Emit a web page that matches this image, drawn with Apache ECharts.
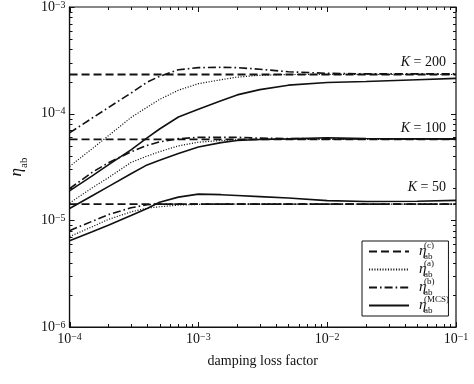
<!DOCTYPE html>
<html><head><meta charset="utf-8">
<script src="https://cdn.jsdelivr.net/npm/echarts@6/dist/echarts.min.js"></script>
<style>html,body{margin:0;padding:0;background:#fff}#c{width:474px;height:384px}</style>
</head><body><div id="c"></div>
<script>
// ---- data ----
const lossFactor = [1e-4, 1.5e-4, 2e-4, 3e-4, 4e-4, 5e-4, 7e-4, 1e-3, 1.5e-3, 2e-3, 3e-3, 5e-3, 1e-2, 2e-2, 5e-2, 1e-1];
const xTickValues = [1e-4, 1e-3, 1e-2, 1e-1];
const yTickValues = [1e-6, 1e-5, 1e-4, 1e-3];
const legendNames = ['c', 'a', 'b', 'MCS'];
const kLabels = ['K = 200', 'K = 100', 'K = 50'];

const k200_c   = [2.33e-4, 2.33e-4, 2.33e-4, 2.33e-4, 2.33e-4, 2.33e-4, 2.33e-4, 2.33e-4, 2.33e-4, 2.33e-4, 2.33e-4, 2.33e-4, 2.33e-4, 2.33e-4, 2.33e-4, 2.33e-4];
const k200_a   = [3.2e-5, 4.7e-5, 6.2e-5, 9.2e-5, 1.15e-4, 1.36e-4, 1.66e-4, 1.91e-4, 2.08e-4, 2.2e-4, 2.29e-4, 2.33e-4, 2.33e-4, 2.33e-4, 2.33e-4, 2.33e-4];
const k200_b   = [6.6e-5, 9.1e-5, 1.14e-4, 1.56e-4, 1.97e-4, 2.24e-4, 2.58e-4, 2.70e-4, 2.72e-4, 2.70e-4, 2.61e-4, 2.47e-4, 2.39e-4, 2.36e-4, 2.36e-4, 2.36e-4];
const k200_mcs = [1.89e-5, 2.61e-5, 3.31e-5, 4.57e-5, 5.92e-5, 7.18e-5, 9.3e-5, 1.10e-4, 1.32e-4, 1.50e-4, 1.68e-4, 1.85e-4, 1.96e-4, 2.0e-4, 2.08e-4, 2.14e-4];

const k100_c   = [5.75e-5, 5.75e-5, 5.75e-5, 5.75e-5, 5.75e-5, 5.75e-5, 5.75e-5, 5.75e-5, 5.75e-5, 5.75e-5, 5.75e-5, 5.75e-5, 5.75e-5, 5.75e-5, 5.75e-5, 5.75e-5];
const k100_a   = [1.45e-5, 2.02e-5, 2.51e-5, 3.49e-5, 4.0e-5, 4.4e-5, 4.99e-5, 5.4e-5, 5.6e-5, 5.7e-5, 5.75e-5, 5.75e-5, 5.75e-5, 5.75e-5, 5.75e-5, 5.75e-5];
const k100_b   = [1.98e-5, 2.82e-5, 3.46e-5, 4.38e-5, 5.04e-5, 5.43e-5, 5.83e-5, 6.0e-5, 6.0e-5, 6.0e-5, 5.9e-5, 5.85e-5, 5.8e-5, 5.8e-5, 5.8e-5, 5.8e-5];
const k100_mcs = [1.29e-5, 1.70e-5, 2.07e-5, 2.73e-5, 3.31e-5, 3.65e-5, 4.24e-5, 4.87e-5, 5.35e-5, 5.6e-5, 5.72e-5, 5.8e-5, 5.95e-5, 5.85e-5, 5.8e-5, 5.8e-5];

const k50_c    = [1.42e-5, 1.42e-5, 1.42e-5, 1.42e-5, 1.42e-5, 1.42e-5, 1.42e-5, 1.42e-5, 1.42e-5, 1.42e-5, 1.42e-5, 1.42e-5, 1.42e-5, 1.42e-5, 1.42e-5, 1.42e-5];
const k50_a    = [7.05e-6, 8.7e-6, 1.02e-5, 1.20e-5, 1.30e-5, 1.34e-5, 1.39e-5, 1.41e-5, 1.42e-5, 1.42e-5, 1.42e-5, 1.42e-5, 1.42e-5, 1.42e-5, 1.42e-5, 1.42e-5];
const k50_b    = [8.0e-6, 9.8e-6, 1.13e-5, 1.31e-5, 1.40e-5, 1.42e-5, 1.42e-5, 1.42e-5, 1.42e-5, 1.42e-5, 1.42e-5, 1.42e-5, 1.42e-5, 1.42e-5, 1.42e-5, 1.42e-5];
const k50_mcs  = [6.45e-6, 7.8e-6, 9.0e-6, 1.11e-5, 1.29e-5, 1.48e-5, 1.65e-5, 1.76e-5, 1.74e-5, 1.71e-5, 1.67e-5, 1.62e-5, 1.53e-5, 1.50e-5, 1.51e-5, 1.54e-5];

// ---- build ----
const FONT = 'Liberation Serif';
const INK = '#111';
const xr = {min: xTickValues[0], max: xTickValues[xTickValues.length - 1]};
const yr = {min: yTickValues[0], max: yTickValues[yTickValues.length - 1]};
// tick marks: [value, length]
function tickList(decades) {
  const out = [];
  decades.forEach((d, i) => {
    out.push([d, 5]);
    if (i < decades.length - 1) for (let m = 2; m <= 9; m++) out.push([d * m, 3]);
  });
  return out;
}
const xTicks = tickList(xTickValues);
const yTicks = tickList(yTickValues);

const powLabel = v => {
  const e = Math.round(Math.log10(v));
  return '{b|10}{s|' + (e < 0 ? '\u2212' : '') + Math.abs(e) + '}';
};
const powRich = {
  b: {fontFamily: FONT, fontSize: 14, color: INK, lineHeight: 14},
  s: {fontFamily: FONT, fontSize: 10, color: INK, lineHeight: 6, verticalAlign: 'top'}
};
const styles = {
  c:   {type: [8, 4], width: 1.8},
  a:   {type: [1.1, 1.6], width: 1.2},
  b:   {type: [8, 3, 1.6, 3], width: 1.6},
  MCS: {type: 'solid', width: 1.6}
};
const groups = [
  {c: k200_c, a: k200_a, b: k200_b, MCS: k200_mcs},
  {c: k100_c, a: k100_a, b: k100_b, MCS: k100_mcs},
  {c: k50_c, a: k50_a, b: k50_b, MCS: k50_mcs}
];
const series = [];
groups.forEach(g => {
  legendNames.forEach(n => {
    series.push({
      name: n, type: 'line', showSymbol: false, symbol: 'none', silent: true,
      data: lossFactor.map((x, i) => [x, g[n][i]]),
      lineStyle: {color: INK, type: styles[n].type, width: styles[n].width},
      itemStyle: {color: INK}, z: n === 'MCS' ? 3 : 2
    });
  });
});
const seg = (x1, y1, x2, y2) => ({type: 'line', shape: {x1, y1, x2, y2}, style: {stroke: INK, lineWidth: 1}});
// x-axis ticks (bottom + top), positioned by the axis scale
series.push({
  type: 'custom', silent: true, z: 5, clip: false,
  data: xTicks.map(t => [t[0], yr.min, t[1]]),
  encode: {x: 0, y: 1},
  renderItem: (params, api) => {
    const cs = params.coordSys;
    const x = Math.round(api.coord([api.value(0), yr.min])[0]) + 0.5;
    const len = api.value(2);
    return {type: 'group', children: [
      seg(x, cs.y + cs.height, x, cs.y + cs.height - len),
      seg(x, cs.y, x, cs.y + len)
    ]};
  }
});
// y-axis ticks (left + right)
series.push({
  type: 'custom', silent: true, z: 5, clip: false,
  data: yTicks.map(t => [xr.min, t[0], t[1]]),
  encode: {x: 0, y: 1},
  renderItem: (params, api) => {
    const cs = params.coordSys;
    const y = Math.round(api.coord([xr.min, api.value(1)])[1]) + 0.5;
    const len = api.value(2);
    return {type: 'group', children: [
      seg(cs.x, y, cs.x + len, y),
      seg(cs.x + cs.width, y, cs.x + cs.width - len, y)
    ]};
  }
});

const chart = echarts.init(document.getElementById('c'), null, {renderer: 'canvas'});
const kText = (t, y) => ({
  type: 'text', right: 28, top: y,
  style: {text: '{i|K}' + t.slice(1), rich: {i: {fontStyle: 'italic', fontFamily: FONT, fontSize: 14, fill: INK}},
    font: '14px "Liberation Serif"', fill: INK}
});
const legendCenters = [251.5, 269.5, 287.5, 305.5];
const supsub = (sup, yc) => ([
  {type: 'text', left: 424, top: yc - 10, style: {text: '(' + sup + ')', font: '9px "Liberation Serif"', fill: INK}},
  {type: 'text', left: 424, top: yc + 0.5, style: {text: 'ab', font: '9px "Liberation Serif"', fill: INK}}
]);
chart.setOption({
  animation: false,
  backgroundColor: '#fff',
  grid: {left: 59, right: 18, top: 5.5, bottom: 57, containLabel: false,
    show: true, borderColor: INK, borderWidth: 1.2, backgroundColor: 'transparent'},
  xAxis: Object.assign({type: 'log', logBase: 10, position: 'bottom', splitLine: {show: false},
    axisLine: {show: true, onZero: false, lineStyle: {color: INK, width: 1.2}},
    axisTick: {show: false},
    axisLabel: {show: true, formatter: powLabel, rich: powRich, margin: 5},
    name: 'damping loss factor', nameLocation: 'middle', nameGap: 27,
    nameTextStyle: {fontFamily: FONT, fontSize: 14, color: INK}}, xr),
  yAxis: Object.assign({type: 'log', logBase: 10, position: 'left', splitLine: {show: false},
    axisLine: {show: true, onZero: false, lineStyle: {color: INK, width: 1.2}},
    axisTick: {show: false},
    axisLabel: {show: true, formatter: powLabel, rich: powRich, margin: 4},
    name: '{e|\u03b7}{s|ab}', nameLocation: 'middle', nameGap: 32, nameRotate: 90,
    nameTextStyle: {rich: {
      e: {fontFamily: FONT, fontSize: 17, fontStyle: 'italic', color: INK, lineHeight: 22, verticalAlign: 'top'},
      s: {fontFamily: FONT, fontSize: 11, color: INK, lineHeight: 22, verticalAlign: 'bottom'}
    }}}, yr),
  legend: {
    data: legendNames, orient: 'vertical', left: 362, top: 241,
    padding: [3, 22, 3, 6], itemWidth: 40, itemHeight: 10, itemGap: 3,
    borderColor: INK, borderWidth: 1,
    itemStyle: {opacity: 0},
    formatter: () => '\u03b7',
    textStyle: {fontFamily: FONT, fontSize: 15, fontStyle: 'italic', color: INK, padding: [0, 0, 0, 5]},
    selectedMode: false
  },
  graphic: [
    kText(kLabels[0], 55),
    kText(kLabels[1], 121),
    kText(kLabels[2], 180)
  ].concat(...legendNames.map((n, i) => supsub(n, legendCenters[i]))),
  series
});
</script></body></html>
